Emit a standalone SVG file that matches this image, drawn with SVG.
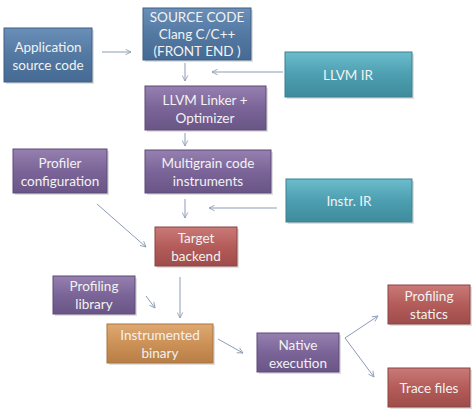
<svg xmlns="http://www.w3.org/2000/svg" width="474" height="412" viewBox="0 0 474 412">
<defs>
<linearGradient id="gBlue" x1="0" y1="0" x2="0" y2="1"><stop offset="0" stop-color="#6a8fb8"/><stop offset="0.5" stop-color="#5379a3"/><stop offset="1" stop-color="#456a93"/></linearGradient>
<linearGradient id="gPurple" x1="0" y1="0" x2="0" y2="1"><stop offset="0" stop-color="#9580b0"/><stop offset="0.5" stop-color="#7b6598"/><stop offset="1" stop-color="#6a5587"/></linearGradient>
<linearGradient id="gTeal" x1="0" y1="0" x2="0" y2="1"><stop offset="0" stop-color="#6cbccc"/><stop offset="0.5" stop-color="#4c9fb1"/><stop offset="1" stop-color="#3f8b9c"/></linearGradient>
<linearGradient id="gRed" x1="0" y1="0" x2="0" y2="1"><stop offset="0" stop-color="#c97a78"/><stop offset="0.5" stop-color="#b45c5a"/><stop offset="1" stop-color="#9e4c4b"/></linearGradient>
<linearGradient id="gOrange" x1="0" y1="0" x2="0" y2="1"><stop offset="0" stop-color="#dfa972"/><stop offset="0.5" stop-color="#cc9157"/><stop offset="1" stop-color="#b77e47"/></linearGradient>
<marker id="arr" viewBox="0 0 10 10" refX="9" refY="5" markerWidth="7" markerHeight="7" orient="auto" markerUnits="userSpaceOnUse">
<path d="M1,1 L9,5 L1,9" fill="none" stroke="#8a9bb4" stroke-width="1.2"/>
</marker>
</defs>
<style>
.box{stroke-width:1;}
.blue{fill:url(#gBlue);stroke:#3f5f85;}
.purple{fill:url(#gPurple);stroke:#5d4a78;}
.teal{fill:url(#gTeal);stroke:#3a8090;}
.red{fill:url(#gRed);stroke:#8c4342;}
.orange{fill:url(#gOrange);stroke:#a87440;}
.sh{fill:#000;opacity:0.12;}
text{font-family:Lato,"Open Sans","Liberation Sans",sans-serif;font-size:13.5px;fill:#f2f2f2;text-anchor:middle;}
.c{fill:none;stroke:#8a9bb4;stroke-width:1;marker-end:url(#arr);}
</style>
<rect width="474" height="412" fill="#ffffff"/>
<g id="connectors">
<path class="c" d="M102,52 L131,52"/>
<path class="c" d="M185,63 L185,81"/>
<path class="c" d="M283,72 L212,72"/>
<path class="c" d="M185,133 L185,146"/>
<path class="c" d="M185,199 L185,218"/>
<path class="c" d="M277,208 L209,208"/>
<path class="c" d="M97,204 L146,247"/>
<path class="c" d="M180,277 L180,318"/>
<path class="c" d="M146,296 L155,308"/>
<path class="c" d="M218,339 L243,353"/>
<path class="c" d="M345,338 L378,316"/>
<path class="c" d="M345,338 L374,377"/>
</g>
<g id="app-source">
<rect class="sh" x="6" y="30" width="88" height="54"/>
<rect class="box blue" x="4" y="28" width="88" height="54"/>
<text x="48" y="52">Application</text>
<text x="48" y="70">source code</text>
</g>
<g id="source-code">
<rect class="sh" x="145" y="10" width="108" height="52"/>
<rect class="box blue" x="143" y="8" width="108" height="52"/>
<text x="197" y="22">SOURCE CODE</text>
<text x="197" y="39">Clang C/C++</text>
<text x="197" y="56">(FRONT END )</text>
</g>
<g id="llvm-ir">
<rect class="sh" x="287" y="54" width="127" height="45"/>
<rect class="box teal" x="285" y="52" width="127" height="45"/>
<text x="348" y="80">LLVM  IR</text>
</g>
<g id="linker">
<rect class="sh" x="147" y="88" width="121" height="44"/>
<rect class="box purple" x="145" y="86" width="121" height="44"/>
<text x="205" y="105">LLVM Linker +</text>
<text x="205" y="123">Optimizer</text>
</g>
<g id="profiler-config">
<rect class="sh" x="15" y="151" width="94" height="44"/>
<rect class="box purple" x="13" y="149" width="94" height="44"/>
<text x="60" y="168">Profiler</text>
<text x="60" y="186">configuration</text>
</g>
<g id="multigrain">
<rect class="sh" x="147" y="152" width="126" height="43"/>
<rect class="box purple" x="145" y="150" width="126" height="43"/>
<text x="208" y="168">Multigrain code</text>
<text x="208" y="186">instruments</text>
</g>
<g id="instr-ir">
<rect class="sh" x="288" y="181" width="126" height="43"/>
<rect class="box teal" x="286" y="179" width="126" height="43"/>
<text x="349" y="206">Instr. IR</text>
</g>
<g id="target-backend">
<rect class="sh" x="157" y="229" width="82" height="39"/>
<rect class="box red" x="155" y="227" width="82" height="39"/>
<text x="196" y="243">Target</text>
<text x="196" y="261">backend</text>
</g>
<g id="profiling-library">
<rect class="sh" x="55" y="278" width="82" height="38"/>
<rect class="box purple" x="53" y="276" width="82" height="38"/>
<text x="94" y="291">Profiling</text>
<text x="94" y="309">library</text>
</g>
<g id="instrumented-binary">
<rect class="sh" x="109" y="326" width="106" height="39"/>
<rect class="box orange" x="107" y="324" width="106" height="39"/>
<text x="160" y="340">Instrumented</text>
<text x="160" y="358">binary</text>
</g>
<g id="native-execution">
<rect class="sh" x="259" y="335" width="82" height="39"/>
<rect class="box purple" x="257" y="333" width="82" height="39"/>
<text x="298" y="350">Native</text>
<text x="298" y="368">execution</text>
</g>
<g id="profiling-statics">
<rect class="sh" x="390" y="287" width="82" height="39"/>
<rect class="box red" x="388" y="285" width="82" height="39"/>
<text x="429" y="301">Profiling</text>
<text x="429" y="319">statics</text>
</g>
<g id="trace-files">
<rect class="sh" x="390" y="370" width="82" height="39"/>
<rect class="box red" x="388" y="368" width="82" height="39"/>
<text x="429" y="393">Trace files</text>
</g>
</svg>
